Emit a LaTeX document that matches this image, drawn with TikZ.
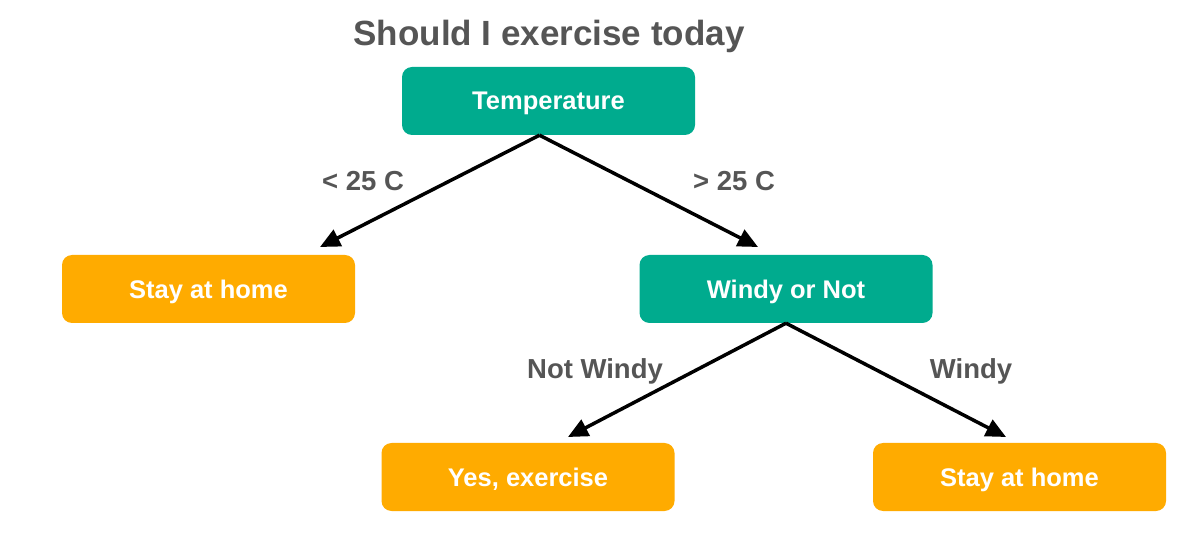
\documentclass[tikz,border=0pt]{standalone}
\usepackage{fontspec}
\setmainfont{Liberation Sans}
\usetikzlibrary{arrows.meta}
\definecolor{treegreen}{HTML}{00AB8E}
\definecolor{treeorange}{HTML}{FFAB00}
\definecolor{labelgray}{HTML}{555555}
\begin{document}
\begin{tikzpicture}
  [x=1pt,y=-1pt
  ,decision/.style={fill=treegreen,rounded corners=10pt,minimum width=293pt,minimum height=68pt,text depth=0pt,text=white,font=\fontsize{25.5}{30}\selectfont\bfseries}
  ,leaf/.style={decision,fill=treeorange}
  ,branch/.style={draw=black,line width=3.5pt,-{Triangle[length=20pt,width=18pt]}}
  ,cond/.style={text=labelgray,font=\fontsize{27.5}{32}\selectfont\bfseries}
  ]

  % page
  \useasboundingbox (0,0) rectangle (1200,534);

  % title
  \node (title) [text=labelgray,font=\fontsize{35}{40}\selectfont\bfseries] at (549,36) {Should I exercise today};

  % boxes
  \node (temp) [decision] at (548.5,101) {Temperature};
  \node (homeL) [leaf] at (208.5,289) {Stay at home};
  \node (windy) [decision] at (786,289) {Windy or Not};
  \node (yes) [leaf] at (528,477) {Yes, exercise};
  \node (homeR) [leaf] at (1019.5,477) {Stay at home};

  % arrow tips
  \coordinate (tipL) at (320,247);
  \coordinate (tipW) at (758,247);
  \coordinate (tipY) at (568,437);
  \coordinate (tipR) at (1006,437);

  % branches
  \draw[branch] ([xshift=-9pt]temp.south) -- (tipL);
  \draw[branch] ([xshift=-9pt]temp.south) -- (tipW);
  \draw[branch] (windy.south) -- (tipY);
  \draw[branch] (windy.south) -- (tipR);

  % conditions
  \node (lt) [cond] at (363,181) {< 25 C};
  \node (gt) [cond] at (734,181) {> 25 C};
  \node (calm) [cond] at (595,371) {Not Windy};
  \node (wind) [cond] at (971,371) {Windy};

\end{tikzpicture}
\end{document}
